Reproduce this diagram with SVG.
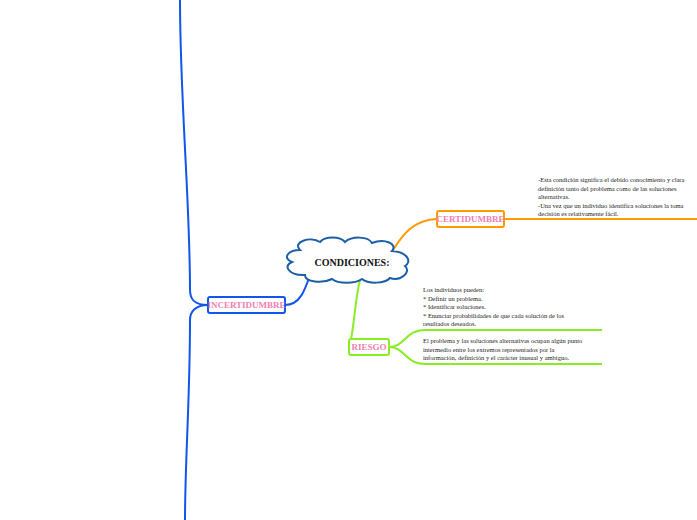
<svg xmlns="http://www.w3.org/2000/svg" width="697" height="520" viewBox="0 0 697 520">
<style>
.t{font-family:"Liberation Serif",serif;font-size:6.5px;fill:#222}
.lbl{font-family:"Liberation Serif",serif;font-size:9px;font-weight:bold;fill:#f080b0;text-anchor:middle}
.c{fill:none;stroke-width:2}
</style>
<rect width="697" height="520" fill="#fff"/>
<g id="connectors">
<path class="c" stroke="#1155ee" d="M208,305 C195,305 190,300 190,290 C190,200 180,100 180,0"/>
<path class="c" stroke="#1155ee" d="M208,305 C195,305 190,312 190,320 C190,400 185,460 185,520"/>
<path class="c" stroke="#1155ee" d="M285,305 C300,305 305,290 310,275"/>
<path class="c" stroke="#ff9900" d="M393,250 C400,240 410,220 437,219"/>
<path class="c" stroke="#ff9900" d="M504,219 L697,219"/>
<path class="c" stroke="#88ee22" d="M360,280 C355,300 355,320 350,345"/>
<path class="c" stroke="#88ee22" d="M389,347 C405,347 405,330 425,330 L602,330"/>
<path class="c" stroke="#88ee22" d="M389,347 C405,347 405,364 425,364 L602,364"/>
</g>
<g id="root">
<path d="M300,250 C292,242 310,236 320,242 C325,236 340,236 345,242 C352,236 368,236 372,243 C385,238 398,244 392,251 C408,252 412,262 405,266 C412,272 400,282 390,278 C385,284 368,284 362,279 C355,284 338,284 332,279 C322,284 305,282 305,275 C290,276 282,266 292,262 C282,258 288,250 300,250 Z" fill="#fff" stroke="#1a5fa8" stroke-width="2"/>
<text x="352" y="266" font-family="Liberation Serif,serif" font-size="10" font-weight="bold" text-anchor="middle" fill="#111">CONDICIONES:</text>
</g>
<g id="incertidumbre">
<rect x="208" y="297" width="77" height="16" rx="2" fill="#fff" stroke="#1155ee" stroke-width="2"/>
<text class="lbl" x="246.5" y="308">INCERTIDUMBRE</text>
</g>
<g id="certidumbre">
<rect x="437" y="211" width="67" height="16" rx="2" fill="#fff" stroke="#ff9900" stroke-width="2"/>
<text class="lbl" x="470.5" y="222">CERTIDUMBRE</text>
<text class="t" x="538" y="182">-Esta condición significa el debido conocimiento y clara</text>
<text class="t" x="538" y="190.5">definición tanto del problema como de las soluciones</text>
<text class="t" x="538" y="199">alternativas.</text>
<text class="t" x="538" y="207.5">-Una vez que un individuo identifica soluciones la toma</text>
<text class="t" x="538" y="216">decisión es relativamente fácil.</text>
</g>
<g id="riesgo">
<rect x="349" y="339" width="40" height="16" rx="2" fill="#fff" stroke="#88ee22" stroke-width="2"/>
<text class="lbl" x="369" y="350">RIESGO</text>
<text class="t" x="423" y="292">Los individuos pueden:</text>
<text class="t" x="423" y="300.5">* Definir un problema.</text>
<text class="t" x="423" y="309">* Identificar soluciones.</text>
<text class="t" x="423" y="317.5">* Enunciar probabilidades de que cada solución de los</text>
<text class="t" x="423" y="326">resultados deseados.</text>
<text class="t" x="423" y="343">El problema y las soluciones alternativas ocupan algún punto</text>
<text class="t" x="423" y="351.5">intermedio entre los extremos representados por la</text>
<text class="t" x="423" y="360">información, definición y el carácter inusual y ambiguo.</text>
</g>
</svg>
